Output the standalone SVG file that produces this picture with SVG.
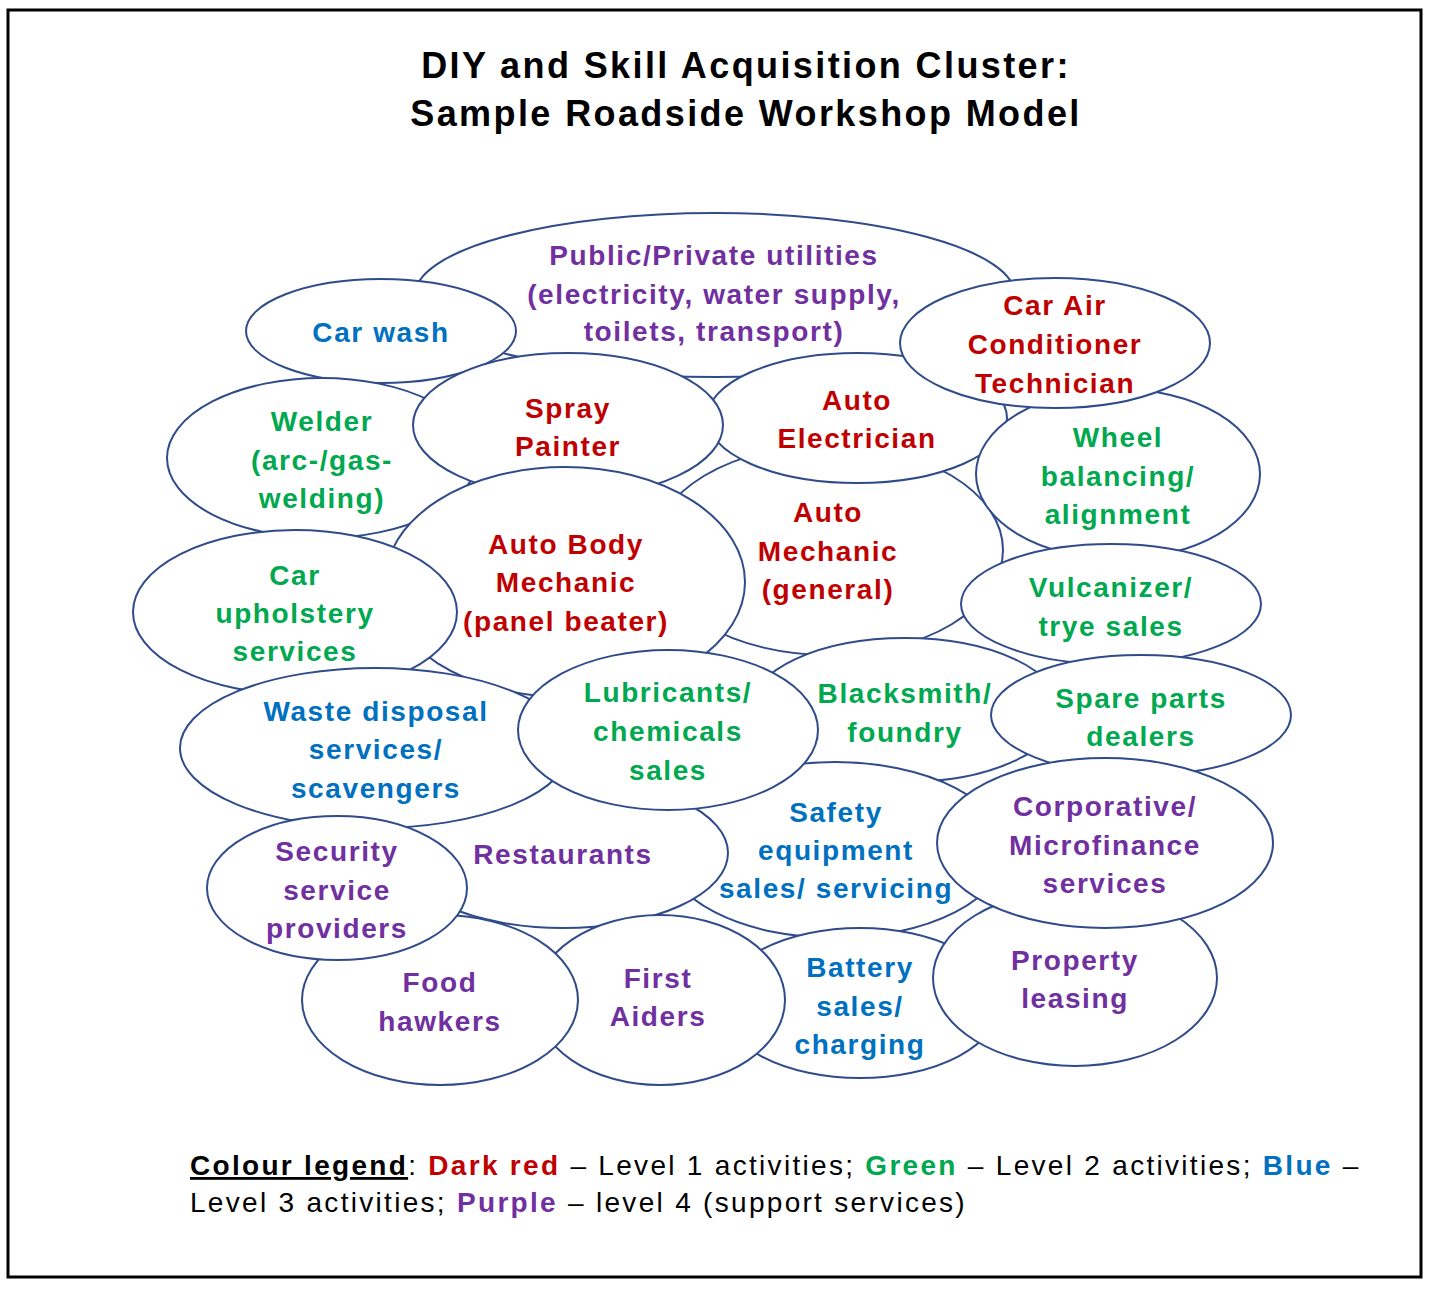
<svg xmlns="http://www.w3.org/2000/svg" width="1429" height="1305" viewBox="0 0 1429 1305">
<style>
ellipse{fill:#fff;stroke:#2f4b8a;stroke-width:2}
text{font-family:"Liberation Sans",Arial,sans-serif;font-weight:bold;font-size:28px;text-anchor:middle;letter-spacing:1.6px}
.r{fill:#c00000}.g{fill:#00a84f}.b{fill:#0070c0}.p{fill:#7030a0}
.t{font-size:36px;fill:#000;letter-spacing:2.4px}
.l{font-size:28px;font-weight:normal;text-anchor:start;fill:#000;letter-spacing:2.3px}
</style>
<rect x="8" y="10" width="1413" height="1267" fill="#fff" stroke="#000" stroke-width="3"/>
<text class="t" x="746" y="78">DIY and Skill Acquisition Cluster:</text>
<text class="t" x="746" y="126">Sample Roadside Workshop Model</text>
<g id="utilities"><ellipse cx="715" cy="295" rx="300" ry="82"/><text class="p" x="714" y="265">Public/Private utilities</text><text class="p" x="714" y="304">(electricity, water supply,</text><text class="p" x="714" y="341">toilets, transport)</text></g>
<g id="carwash"><ellipse cx="381" cy="331" rx="135" ry="52"/><text class="b" x="381" y="342">Car wash</text></g>
<g id="welder"><ellipse cx="322" cy="458" rx="155" ry="80"/><text class="g" x="322" y="431">Welder</text><text class="g" x="322" y="470">(arc-/gas-</text><text class="g" x="322" y="508">welding)</text></g>
<g id="automech"><ellipse cx="828" cy="550" rx="175" ry="105"/><text class="r" x="828" y="522">Auto</text><text class="r" x="828" y="561">Mechanic</text><text class="r" x="828" y="599">(general)</text></g>
<g id="autoelec"><ellipse cx="857" cy="418" rx="150" ry="65"/><text class="r" x="857" y="410">Auto</text><text class="r" x="857" y="448">Electrician</text></g>
<g id="spray"><ellipse cx="568" cy="425" rx="155" ry="72"/><text class="r" x="568" y="418">Spray</text><text class="r" x="568" y="456">Painter</text></g>
<g id="wheel"><ellipse cx="1118" cy="474" rx="142" ry="85"/><text class="g" x="1118" y="447">Wheel</text><text class="g" x="1118" y="486">balancing/</text><text class="g" x="1118" y="524">alignment</text></g>
<g id="aircon"><ellipse cx="1055" cy="343" rx="155" ry="65"/><text class="r" x="1055" y="315">Car Air</text><text class="r" x="1055" y="354">Conditioner</text><text class="r" x="1055" y="393">Technician</text></g>
<g id="bodymech"><ellipse cx="565" cy="582" rx="180" ry="115"/><text class="r" x="566" y="554">Auto Body</text><text class="r" x="566" y="592">Mechanic</text><text class="r" x="566" y="631">(panel beater)</text></g>
<g id="upholstery"><ellipse cx="295" cy="612" rx="162" ry="82"/><text class="g" x="295" y="585">Car</text><text class="g" x="295" y="623">upholstery</text><text class="g" x="295" y="661">services</text></g>
<g id="vulcanizer"><ellipse cx="1111" cy="604" rx="150" ry="60"/><text class="g" x="1111" y="597">Vulcanizer/</text><text class="g" x="1111" y="636">trye sales</text></g>
<g id="blacksmith"><ellipse cx="905" cy="710" rx="155" ry="72"/><text class="g" x="905" y="703">Blacksmith/</text><text class="g" x="905" y="742">foundry</text></g>
<g id="spareparts"><ellipse cx="1141" cy="715" rx="150" ry="60"/><text class="g" x="1141" y="708">Spare parts</text><text class="g" x="1141" y="746">dealers</text></g>
<g id="safety"><ellipse cx="835" cy="850" rx="170" ry="88"/><text class="b" x="836" y="822">Safety</text><text class="b" x="836" y="860">equipment</text><text class="b" x="836" y="898">sales/ servicing</text></g>
<g id="restaurants"><ellipse cx="563" cy="853" rx="165" ry="75"/><text class="p" x="563" y="864">Restaurants</text></g>
<g id="waste"><ellipse cx="375" cy="748" rx="195" ry="80"/><text class="b" x="376" y="721">Waste disposal</text><text class="b" x="376" y="759">services/</text><text class="b" x="376" y="798">scavengers</text></g>
<g id="lubricants"><ellipse cx="668" cy="730" rx="150" ry="80"/><text class="g" x="668" y="702">Lubricants/</text><text class="g" x="668" y="741">chemicals</text><text class="g" x="668" y="780">sales</text></g>
<g id="battery"><ellipse cx="860" cy="1003" rx="140" ry="75"/><text class="b" x="860" y="977">Battery</text><text class="b" x="860" y="1016">sales/</text><text class="b" x="860" y="1054">charging</text></g>
<g id="property"><ellipse cx="1075" cy="978" rx="142" ry="88"/><text class="p" x="1075" y="970">Property</text><text class="p" x="1075" y="1008">leasing</text></g>
<g id="corporative"><ellipse cx="1105" cy="843" rx="168" ry="85"/><text class="p" x="1105" y="816">Corporative/</text><text class="p" x="1105" y="855">Microfinance</text><text class="p" x="1105" y="893">services</text></g>
<g id="firstaid"><ellipse cx="660" cy="1000" rx="125" ry="85"/><text class="p" x="658" y="988">First</text><text class="p" x="658" y="1026">Aiders</text></g>
<g id="food"><ellipse cx="440" cy="1000" rx="138" ry="85"/><text class="p" x="440" y="992">Food</text><text class="p" x="440" y="1031">hawkers</text></g>
<g id="security"><ellipse cx="337" cy="888" rx="130" ry="72"/><text class="p" x="337" y="861">Security</text><text class="p" x="337" y="900">service</text><text class="p" x="337" y="938">providers</text></g>
<g id="connectors"></g>
<text class="l" x="190" y="1175"><tspan font-weight="bold" text-decoration="underline">Colour legend</tspan>: <tspan font-weight="bold" fill="#c00000">Dark red</tspan> – Level 1 activities; <tspan font-weight="bold" fill="#00a84f">Green</tspan> – Level 2 activities; <tspan font-weight="bold" fill="#0070c0">Blue</tspan> –</text>
<text class="l" x="190" y="1212">Level 3 activities; <tspan font-weight="bold" fill="#7030a0">Purple</tspan> – level 4 (support services)</text>
</svg>
